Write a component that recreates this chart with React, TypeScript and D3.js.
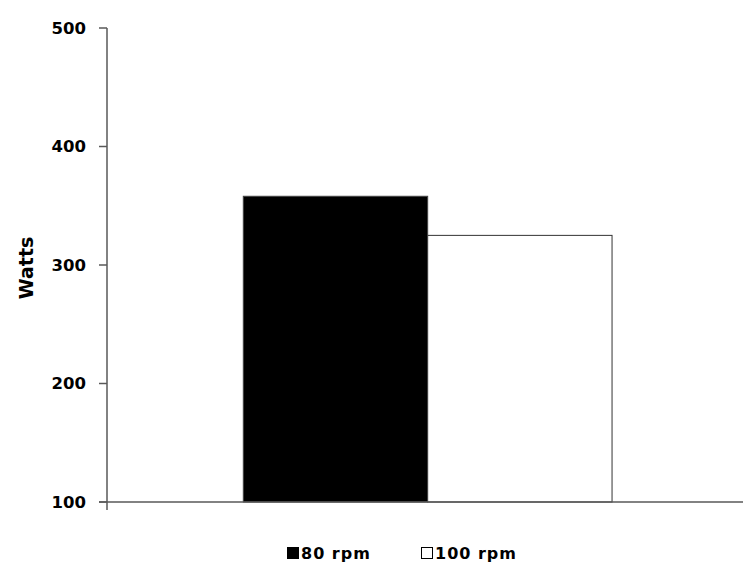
import React, { useEffect, useRef } from "react";
import * as d3 from "d3";

const categories = ["Watts"];
const series = ["80 rpm", "100 rpm"];
const values = [358, 325];
const fills = ["#000000", "#ffffff"];
const yTicks = [100, 200, 300, 400, 500];

const W = 743;
const H = 584;

const App: React.FC = () => {
  const svgRef = useRef<SVGSVGElement | null>(null);

  useEffect(() => {
    if (!svgRef.current) return;
    const svg = d3.select(svgRef.current);
    svg.selectAll("*").remove();

    const left = 107;
    const right = 743;
    const top = 28;
    const bottom = 502;

    const y = d3.scaleLinear().domain([100, 500]).range([bottom, top]);
    const x0 = d3
      .scaleBand<string>()
      .domain(categories)
      .range([left, right])
      .paddingInner(0.266)
      .paddingOuter(0.266)
      .align(0.51);
    const x1 = d3
      .scaleBand<string>()
      .domain(series)
      .range([0, x0.bandwidth()]);

    // bars
    const g = svg.append("g");
    categories.forEach((c) => {
      g.selectAll(".bar")
        .data(series)
        .enter()
        .append("rect")
        .attr("x", (s) => (x0(c) ?? 0) + (x1(s) ?? 0))
        .attr("y", (s, i) => y(values[i]))
        .attr("width", x1.bandwidth())
        .attr("height", (s, i) => bottom - y(values[i]))
        .attr("fill", (s, i) => fills[i])
        .attr("stroke", (s, i) => (i === 0 ? "#444" : "#333"))
        .attr("stroke-width", 1);
    });

    // axes
    const axisColor = "#595959";
    svg
      .append("line")
      .attr("x1", left)
      .attr("x2", left)
      .attr("y1", top)
      .attr("y2", bottom + 8)
      .attr("stroke", axisColor)
      .attr("stroke-width", 1.5);
    svg
      .append("line")
      .attr("x1", left - 8)
      .attr("x2", right)
      .attr("y1", bottom)
      .attr("y2", bottom)
      .attr("stroke", axisColor)
      .attr("stroke-width", 1.5);

    const tick = svg
      .selectAll(".ytick")
      .data(yTicks)
      .enter()
      .append("g")
      .attr("transform", (d) => `translate(0,${y(d)})`);
    tick
      .append("line")
      .attr("x1", left - 8)
      .attr("x2", left)
      .attr("stroke", axisColor)
      .attr("stroke-width", 1.5);
    tick
      .append("text")
      .attr("x", left - 21)
      .attr("dy", "0.36em")
      .attr("text-anchor", "end")
      .attr("font-family", "DejaVu Sans")
      .attr("font-weight", "bold")
      .attr("font-size", 16.5)
      .attr("fill", "#000")
      .text((d) => d);

    // y label
    svg
      .append("text")
      .attr("transform", "translate(33,268) rotate(-90)")
      .attr("text-anchor", "middle")
      .attr("font-family", "DejaVu Sans")
      .attr("font-weight", "bold")
      .attr("font-size", 19)
      .attr("fill", "#000")
      .text("Watts");

    // legend
    const legendX = [287, 421];
    const leg = svg
      .selectAll(".leg")
      .data(series)
      .enter()
      .append("g")
      .attr("transform", (d, i) => `translate(${legendX[i]},553)`);
    leg
      .append("rect")
      .attr("x", 0.5)
      .attr("y", -5.5)
      .attr("width", 11)
      .attr("height", 11)
      .attr("fill", (d, i) => fills[i])
      .attr("stroke", "#000")
      .attr("stroke-width", 1);
    leg
      .append("text")
      .attr("x", 14)
      .attr("dy", "0.36em")
      .attr("font-family", "DejaVu Sans")
      .attr("font-weight", "bold")
      .attr("font-size", 16)
      .attr("letter-spacing", 1)
      .attr("fill", "#000")
      .text((d) => d);
  }, []);

  return (
    <svg
      ref={svgRef}
      width={W}
      height={H}
      style={{ position: "absolute", left: 0, top: 0, background: "#fff" }}
    />
  );
};

export default App;
